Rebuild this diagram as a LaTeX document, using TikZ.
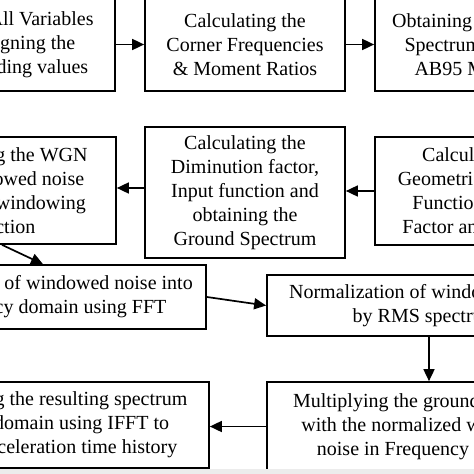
\documentclass[tikz,border=0pt]{standalone}
\usepackage{fontspec}
\setmainfont{Liberation Serif}
\usetikzlibrary{arrows.meta}
\begin{document}
\begin{tikzpicture}[x=1pt,y=-1pt,
  box/.style={draw, line width=1.7pt, align=center, inner sep=0pt,
    font=\fontsize{20}{24}\selectfont},
  arr/.style={line width=1.7pt, -{Triangle[length=12pt,width=11pt]}}]
\useasboundingbox (0,0) rectangle (474,474);
\fill[white] (0,0) rectangle (474,474);
\begin{scope}
\clip (0,0) rectangle (474,474);
% row 1
\node[box, minimum width=224pt, minimum height=93pt] (A) at (3,44.5)
  {Defining All Variables\\and Assigning the\\corresponding values};
\node[box, minimum width=200pt, minimum height=93pt] (B) at (245,44.5)
  {Calculating the\\Corner Frequencies\\\& Moment Ratios};
\node[box, minimum width=184pt, minimum height=93pt] (C) at (467,44.5)
  {Obtaining the FAS\\Spectrum using\\AB95 Model};
% row 2
\node[box, minimum width=228pt, minimum height=107pt] (D) at (2,190.5)
  {Generating the WGN\\and windowed noise\\using the windowing\\function};
\node[box, minimum width=200pt, minimum height=131pt] (E) at (245,192.5)
  {Calculating the\\Diminution factor,\\Input function and\\obtaining the\\Ground Spectrum};
\node[box, minimum width=216pt, minimum height=108pt] (F) at (483,191)
  {Calculating the\\Geometric Spreading\\Function, Quality\\Factor and Duration};
% row 3
\node[box, minimum width=312pt, minimum height=64pt] (G) at (50,297)
  {Conversion of windowed noise into\\frequency domain using FFT};
\node[box, minimum width=317pt, minimum height=61pt] (H) at (425.5,305.5)
  {Normalization of windowed noise\\by RMS spectrum};
% row 4
\node[box, minimum width=317pt, minimum height=89pt] (I) at (425.5,426.5)
  {Multiplying the ground spectrum\\with the normalized windowed\\noise in Frequency domain};
\node[box, minimum width=316pt, minimum height=86pt] (J) at (51,425)
  {Converting the resulting spectrum\\to time domain using IFFT to\\obtain acceleration time history};
% connectors
\draw[arr] (A.east) -- (B.west);
\draw[arr] (B.east) -- (C.west);
\draw[arr] (F.west) -- (F.west -| E.east);
\coordinate (d1) at ([yshift=2.5pt]D.east);
\draw[arr] (d1 -| E.west) -- (d1);
\draw[arr] (D.south) -- ([xshift=-7pt]G.north);
\draw[arr] (G.east) -- (H.west);
\coordinate (h1) at ([xshift=3.5pt]H.south);
\draw[arr] (h1) -- (h1 |- I.north);
\draw[arr] (I.west) -- (I.west -| J.east);
\fill[gray!15] (0,469) rectangle (474,474);
\end{scope}
\end{tikzpicture}
\end{document}
